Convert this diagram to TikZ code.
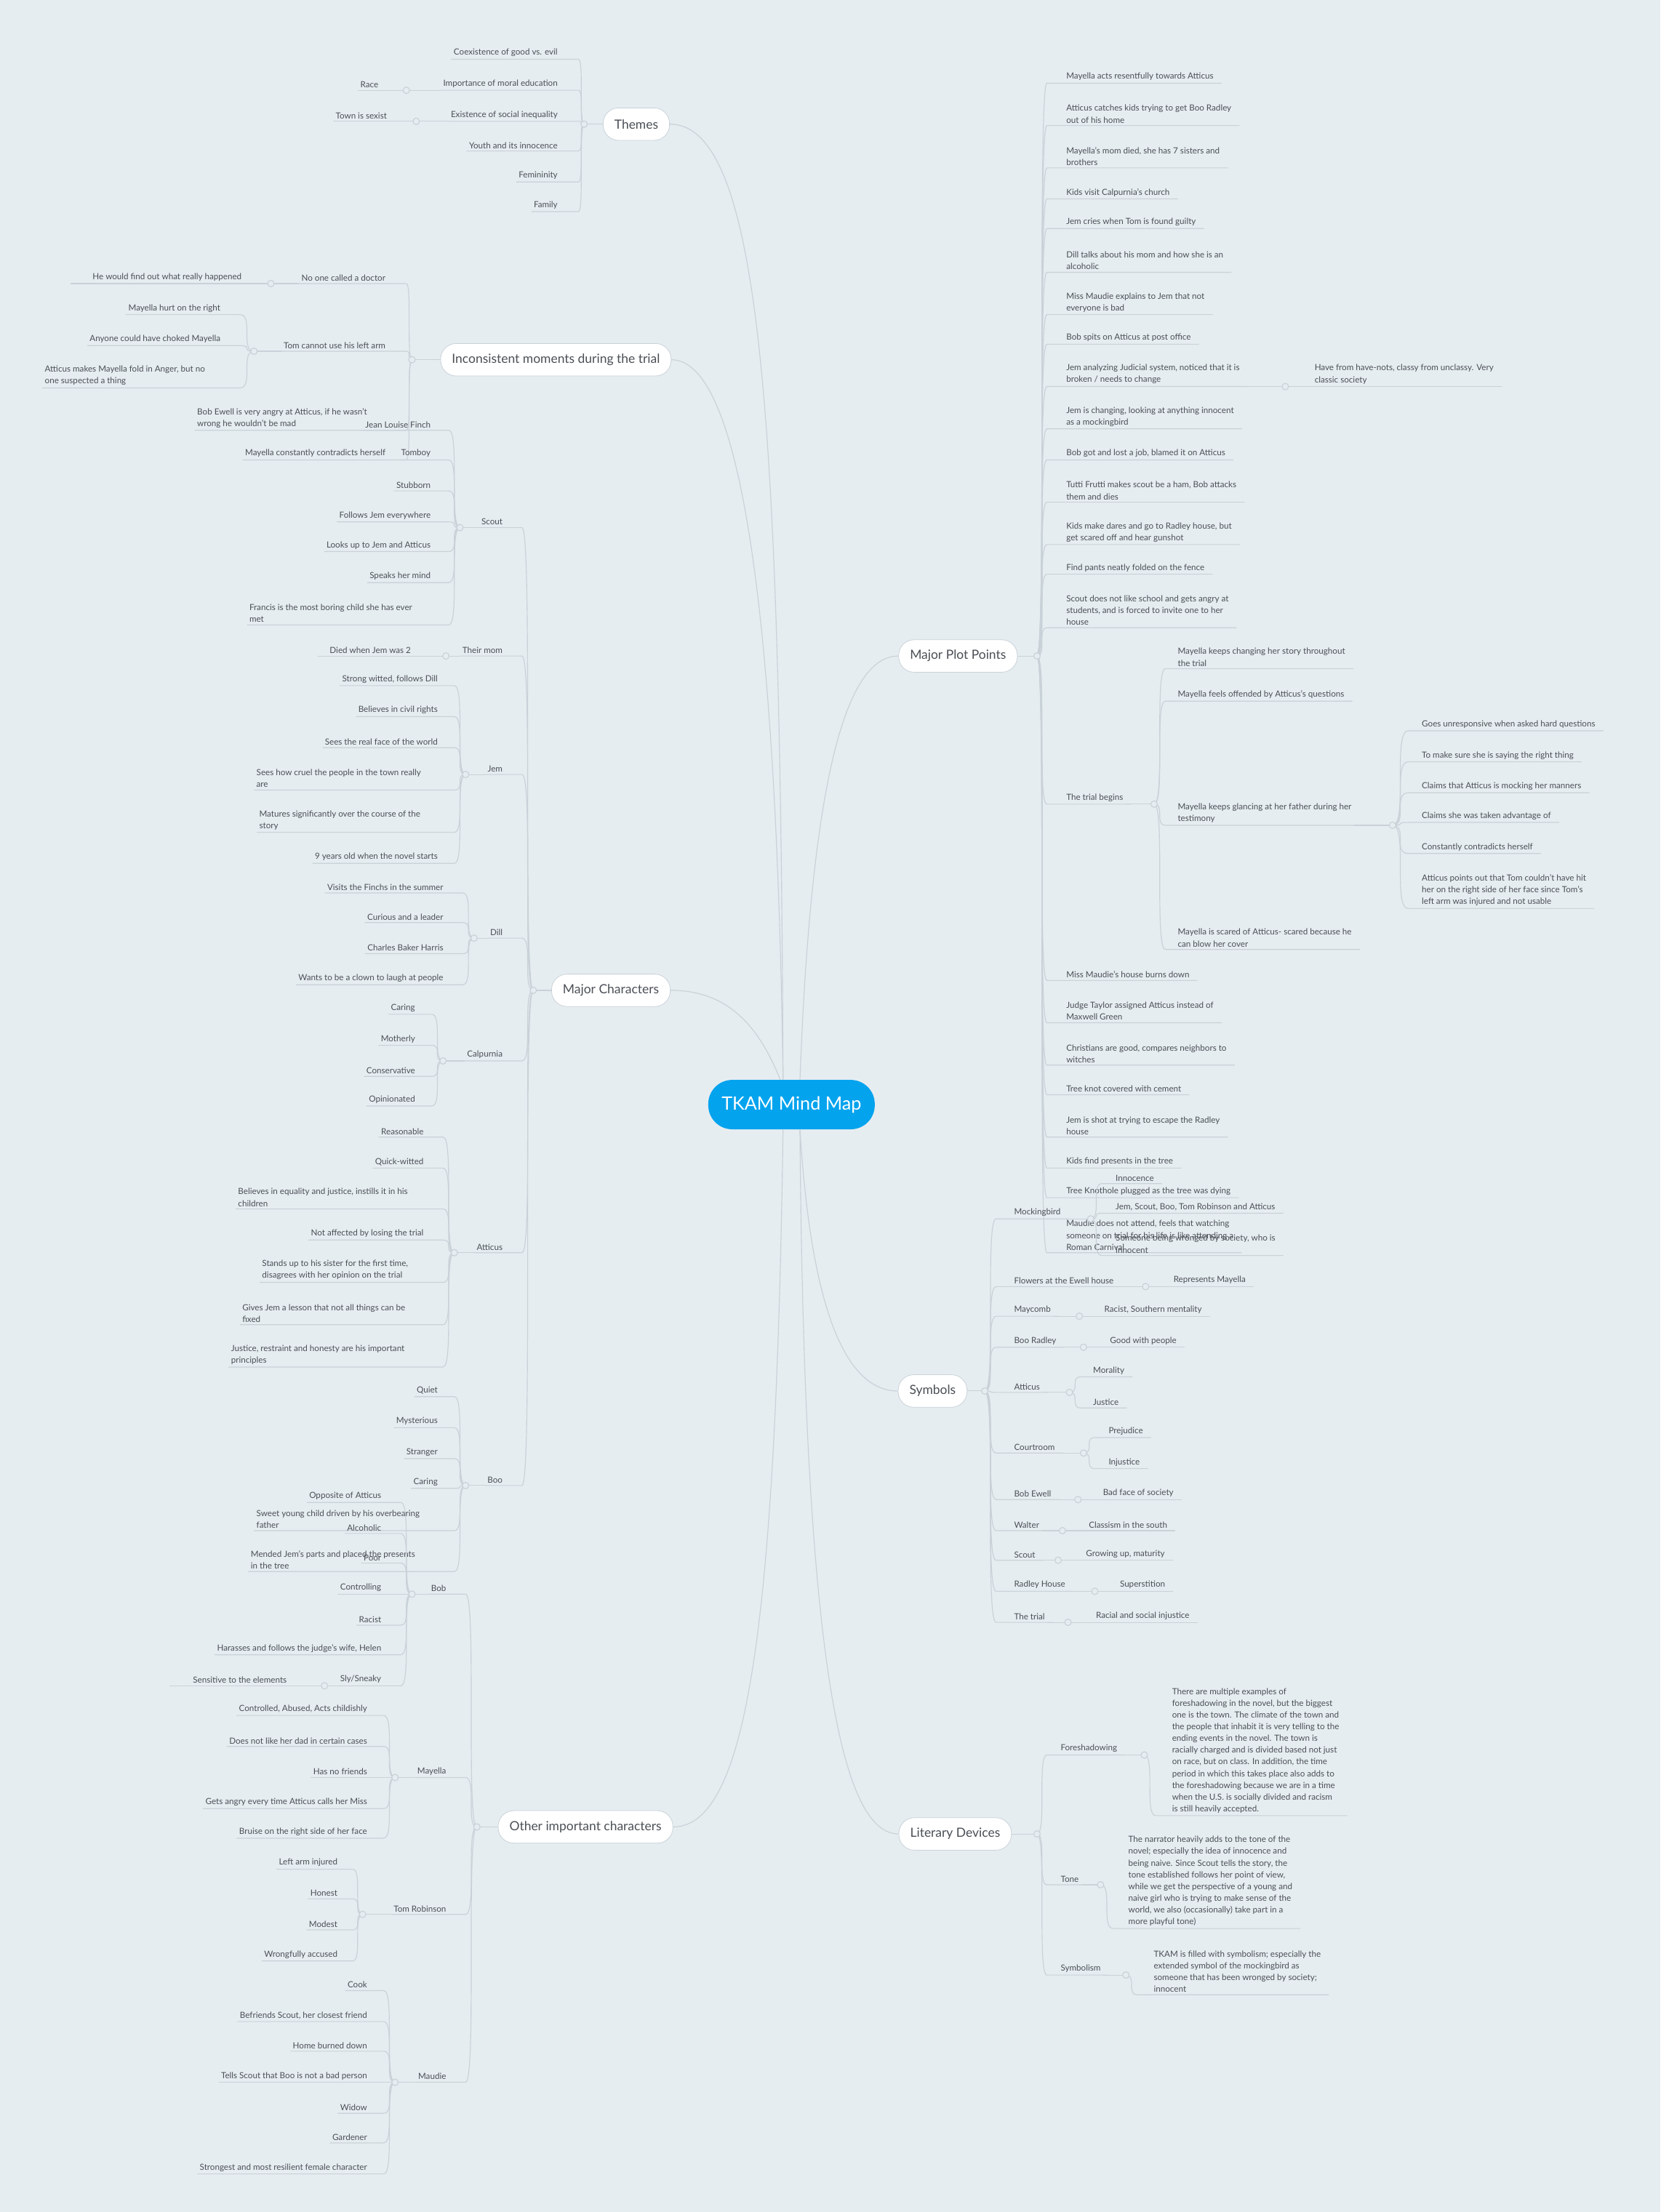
\documentclass[tikz,border=0pt]{standalone}
\usepackage{fontspec}
\setmainfont{Lato}
\definecolor{bg}{HTML}{E6EDF1}
\definecolor{lc}{HTML}{C9D2D8}
\definecolor{txt}{HTML}{4A4F55}
\definecolor{cblue}{HTML}{03A3EE}
\tikzset{
 lt/.style={font=\fontsize{6}{8.3}\selectfont, text=txt, inner sep=1.6pt, align=left},
 ln/.style={draw=lc, line width=0.6pt},
 jc/.style={draw=lc, fill=bg, line width=0.6pt},
 mainbox/.style={draw=lc, fill=white, rounded corners=11pt, minimum height=23pt, inner xsep=8pt, font=\fontsize{9}{11}\selectfont, text=txt},
}
\newcounter{nn}
% left leaf: anchor, x, uy, text, xstart(optional), xe, jx, jy
\newcommand\LL[8]{\stepcounter{nn}%
 \node[lt,anchor=#1] (n\thenn) at (#2,#3) {#4};
 \draw[ln] (n\thenn.south west) -- (#6,#3) .. controls (#7,#3) and (#6,#8) .. (#7,#8);
 \if\relax\detokenize{#5}\relax\else\draw[ln] (#5,#3) -- (n\thenn.south west);\fi}
% right leaf: x, uy, text, xend(optional), xe, jx, jy
\newcommand\RL[7]{\stepcounter{nn}%
 \node[lt,anchor=south west] (n\thenn) at (#1,#2) {#3};
 \draw[ln] (n\thenn.south east) ++(4,0) -- (#5,#2) .. controls (#6,#2) and (#5,#7) .. (#6,#7);
 \if\relax\detokenize{#4}\relax\else\draw[ln] (n\thenn.south east) -- (#4,#2);\fi}
\newcommand\J[2]{\draw[jc] (#1,#2) circle (2.3);}
\begin{document}
\begin{tikzpicture}[x=1pt,y=-1pt]
\fill[bg] (0,0) rectangle (1177,1568);
\useasboundingbox (0,0) rectangle (1177,1568);

% main nodes
\node[draw=none, fill=cblue, rounded corners=17pt, minimum width=118pt, minimum height=35pt, text=white, font=\fontsize{13}{15}\selectfont] (C) at (561,783) {TKAM Mind Map};
\node[mainbox] (themes) at (451,88) {Themes};
\node[mainbox] (incons) at (394,255) {Inconsistent moments during the trial};
\node[mainbox] (majc) at (433,702) {Major Characters};
\node[mainbox] (other) at (415,1295) {Other important characters};
\node[mainbox] (plot) at (679,465) {Major Plot Points};
\node[mainbox] (symb) at (661,986) {Symbols};
\node[mainbox] (lit) at (677,1300) {Literary Devices};

\draw[ln] ([xshift=-6pt]C.north) .. controls (553,300) and (540,88) .. (themes.east);
\draw[ln] ([xshift=-6pt]C.north) .. controls (550,400) and (520,255) .. (incons.east);
\draw[ln] ([xshift=-8pt]C.north) .. controls (535,720) and (510,702) .. (majc.east);
\draw[ln] ([xshift=-6pt]C.south) .. controls (550,1150) and (530,1295) .. (other.east);
\draw[ln] ([xshift=6pt]C.north) .. controls (575,550) and (600,465) .. (plot.west);
\draw[ln] ([xshift=6pt]C.south) .. controls (575,930) and (600,986) .. (symb.west);
\draw[ln] ([xshift=6pt]C.south) .. controls (570,1200) and (600,1300) .. (lit.west);

\draw[ln] (414,88) -- (themes.west);
\draw[ln] (292,255) -- (incons.west);
\draw[ln] (378,702) -- (majc.west);
\draw[ln] (338,1295) -- (other.west);
\draw[ln] (plot.east) -- (735,465);
\draw[ln] (symb.east) -- (698,986);
\draw[ln] (lit.east) -- (735,1300);

% Themes
\LL{south east}{397}{42}{Coexistence of good vs. evil}{}{410}{414}{88}
\LL{south east}{397}{64}{Importance of moral education}{288}{410}{414}{88}
\LL{south east}{270}{64}{Race}{}{287.5}{288}{64}
\LL{south east}{397}{86}{Existence of social inequality}{295}{410}{414}{88}
\LL{south east}{276}{86}{Town is sexist}{}{294.5}{295}{86}
\LL{south east}{397}{107}{Youth and its innocence}{}{410}{414}{88}
\LL{south east}{397}{129}{Femininity}{}{410}{414}{88}
\LL{south east}{397}{150}{Family}{}{410}{414}{88}

% Inconsistent
\LL{south east}{275}{201}{No one called a doctor}{192}{288}{292}{255}
\LL{south east}{173}{201}{He would find out what really happened}{50}{191.5}{192}{201}
\LL{south east}{275}{249}{Tom cannot use his left arm}{180}{288}{292}{255}
\LL{south east}{158}{223}{Mayella hurt on the right}{}{170}{180}{249}
\LL{south east}{158}{245}{Anyone could have choked Mayella}{}{170}{180}{249}
\LL{south west}{30}{275}{Atticus makes Mayella fold in Anger, but no\\one suspected a thing}{}{170}{180}{249}
\LL{south west}{138}{305}{Bob Ewell is very angry at Atticus, if he wasn't\\wrong he wouldn't be mad}{}{288}{292}{255}
\LL{south east}{275}{326}{Mayella constantly contradicts herself}{}{288}{292}{255}

% Major characters labels
\LL{south east}{358}{374}{Scout}{326}{370}{378}{702}
\LL{south east}{358}{465}{Their mom}{316}{370}{378}{702}
\LL{south east}{358}{549}{Jem}{330}{370}{378}{702}
\LL{south east}{358}{665}{Dill}{336}{370}{378}{702}
\LL{south east}{358}{752}{Calpurnia}{314}{370}{378}{702}
\LL{south east}{358}{888}{Atticus}{322}{370}{378}{702}
\LL{south east}{358}{1053}{Boo}{330}{370}{378}{702}
% Scout
\LL{south east}{307}{305}{Jean Louise Finch}{}{318}{326}{374}
\LL{south east}{307}{326}{Tomboy}{}{318}{326}{374}
\LL{south east}{307}{348}{Stubborn}{}{318}{326}{374}
\LL{south east}{307}{370}{Follows Jem everywhere}{}{318}{326}{374}
\LL{south east}{307}{391}{Looks up to Jem and Atticus}{}{318}{326}{374}
\LL{south east}{307}{413}{Speaks her mind}{}{318}{326}{374}
\LL{south west}{175}{443}{Francis is the most boring child she has ever\\met}{}{318}{326}{374}
% mom
\LL{south east}{293}{465}{Died when Jem was 2}{225}{315.5}{316}{465}
% Jem
\LL{south east}{312}{486}{Strong witted, follows Dill}{}{322}{330}{549}
\LL{south east}{312}{508}{Believes in civil rights}{}{322}{330}{549}
\LL{south east}{312}{530}{Sees the real face of the world}{}{322}{330}{549}
\LL{south west}{180}{560}{Sees how cruel the people in the town really\\are}{}{322}{330}{549}
\LL{south west}{182}{590}{Matures significantly over the course of the\\story}{}{322}{330}{549}
\LL{south east}{312}{612}{9 years old when the novel starts}{}{322}{330}{549}
% Dill
\LL{south east}{316}{633}{Visits the Finchs in the summer}{}{328}{336}{665}
\LL{south east}{316}{654}{Curious and a leader}{}{328}{336}{665}
\LL{south east}{316}{676}{Charles Baker Harris}{}{328}{336}{665}
\LL{south east}{316}{698}{Wants to be a clown to laugh at people}{}{328}{336}{665}
% Calpurnia
\LL{south east}{296}{719}{Caring}{}{306}{314}{752}
\LL{south east}{296}{741}{Motherly}{}{306}{314}{752}
\LL{south east}{296}{763}{Conservative}{}{306}{314}{752}
\LL{south east}{296}{784}{Opinionated}{}{306}{314}{752}
% Atticus
\LL{south east}{302}{806}{Reasonable}{}{314}{322}{888}
\LL{south east}{302}{828}{Quick-witted}{}{314}{322}{888}
\LL{south west}{167}{857}{Believes in equality and justice, instills it in his\\children}{}{314}{322}{888}
\LL{south east}{302}{879}{Not affected by losing the trial}{}{314}{322}{888}
\LL{south west}{184}{909}{Stands up to his sister for the first time,\\disagrees with her opinion on the trial}{}{314}{322}{888}
\LL{south west}{170}{939}{Gives Jem a lesson that not all things can be\\fixed}{}{314}{322}{888}
\LL{south west}{162}{969}{Justice, restraint and honesty are his important\\principles}{}{314}{322}{888}
% Boo
\LL{south east}{312}{990}{Quiet}{}{322}{330}{1053}
\LL{south east}{312}{1012}{Mysterious}{}{322}{330}{1053}
\LL{south east}{312}{1034}{Stranger}{}{322}{330}{1053}
\LL{south east}{312}{1055}{Caring}{}{322}{330}{1053}
\LL{south west}{180}{1085}{Sweet young child driven by his overbearing\\father}{}{322}{330}{1053}
\LL{south west}{176}{1114}{Mended Jem's parts and placed the presents\\in the tree}{}{322}{330}{1053}

% Other important characters labels
\LL{south east}{318}{1130}{Bob}{292}{330}{338}{1295}
\LL{south east}{318}{1260}{Mayella}{280}{330}{338}{1295}
\LL{south east}{318}{1357}{Tom Robinson}{257}{330}{338}{1295}
\LL{south east}{318}{1476}{Maudie}{280}{330}{338}{1295}
% Bob
\LL{south east}{272}{1065}{Opposite of Atticus}{}{284}{292}{1130}
\LL{south east}{272}{1087}{Alcoholic}{}{284}{292}{1130}
\LL{south east}{272}{1108}{Poor}{}{284}{292}{1130}
\LL{south east}{272}{1130}{Controlling}{}{284}{292}{1130}
\LL{south east}{272}{1152}{Racist}{}{284}{292}{1130}
\LL{south east}{272}{1173}{Harasses and follows the judge's wife, Helen}{}{284}{292}{1130}
\LL{south east}{272}{1195}{Sly/Sneaky}{230}{284}{292}{1130}
\LL{south east}{205}{1195}{Sensitive to the elements}{120}{229.5}{230}{1195}
% Mayella
\LL{south east}{262}{1216}{Controlled, Abused, Acts childishly}{}{272}{280}{1260}
\LL{south east}{262}{1238}{Does not like her dad in certain cases}{}{272}{280}{1260}
\LL{south east}{262}{1260}{Has no friends}{}{272}{280}{1260}
\LL{south east}{262}{1282}{Gets angry every time Atticus calls her Miss}{}{272}{280}{1260}
\LL{south east}{262}{1303}{Bruise on the right side of her face}{}{272}{280}{1260}
% Tom
\LL{south east}{241}{1325}{Left arm injured}{}{250}{257}{1357}
\LL{south east}{241}{1346}{Honest}{}{250}{257}{1357}
\LL{south east}{241}{1368}{Modest}{}{250}{257}{1357}
\LL{south east}{241}{1390}{Wrongfully accused}{}{250}{257}{1357}
% Maudie
\LL{south east}{262}{1411}{Cook}{}{272}{280}{1476}
\LL{south east}{262}{1433}{Befriends Scout, her closest friend}{}{272}{280}{1476}
\LL{south east}{262}{1454}{Home burned down}{}{272}{280}{1476}
\LL{south east}{262}{1476}{Tells Scout that Boo is not a bad person}{}{272}{280}{1476}
\LL{south east}{262}{1498}{Widow}{}{272}{280}{1476}
\LL{south east}{262}{1519}{Gardener}{}{272}{280}{1476}
\LL{south east}{262}{1541}{Strongest and most resilient female character}{}{272}{280}{1476}

% Major Plot Points
\RL{754}{59}{Mayella acts resentfully towards Atticus}{}{742}{735}{465}
\RL{754}{89}{Atticus catches kids trying to get Boo Radley\\out of his home}{}{742}{735}{465}
\RL{754}{119}{Mayella's mom died, she has 7 sisters and\\brothers}{}{742}{735}{465}
\RL{754}{141}{Kids visit Calpurnia's church}{}{742}{735}{465}
\RL{754}{162}{Jem cries when Tom is found guilty}{}{742}{735}{465}
\RL{754}{193}{Dill talks about his mom and how she is an\\alcoholic}{}{742}{735}{465}
\RL{754}{223}{Miss Maudie explains to Jem that not\\everyone is bad}{}{742}{735}{465}
\RL{754}{244}{Bob spits on Atticus at post office}{}{742}{735}{465}
\RL{754}{274}{Jem analyzing Judicial system, noticed that it is\\broken / needs to change}{911}{742}{735}{465}
\RL{930}{274}{Have from have-nots, classy from unclassy. Very\\classic society}{}{911.5}{911}{274}
\RL{754}{304}{Jem is changing, looking at anything innocent\\as a mockingbird}{}{742}{735}{465}
\RL{754}{326}{Bob got and lost a job, blamed it on Atticus}{}{742}{735}{465}
\RL{754}{356}{Tutti Frutti makes scout be a ham, Bob attacks\\them and dies}{}{742}{735}{465}
\RL{754}{386}{Kids make dares and go to Radley house, but\\get scared off and hear gunshot}{}{742}{735}{465}
\RL{754}{407}{Find pants neatly folded on the fence}{}{742}{735}{465}
\RL{754}{445}{Scout does not like school and gets angry at\\students, and is forced to invite one to her\\house}{}{742}{735}{465}
\RL{754}{570}{The trial begins}{818}{742}{735}{465}
\RL{833}{474}{Mayella keeps changing her story throughout\\the trial}{}{826}{818}{570}
\RL{833}{497}{Mayella feels offended by Atticus's questions}{}{826}{818}{570}
\RL{833}{585}{Mayella keeps glancing at her father during her\\testimony}{987}{826}{818}{570}
\RL{833}{673}{Mayella is scared of Atticus- scared because he\\can blow her cover}{}{826}{818}{570}
\RL{1006}{518}{Goes unresponsive when asked hard questions}{}{998}{987}{585}
\RL{1006}{540}{To make sure she is saying the right thing}{}{998}{987}{585}
\RL{1006}{562}{Claims that Atticus is mocking her manners}{}{998}{987}{585}
\RL{1006}{583}{Claims she was taken advantage of}{}{998}{987}{585}
\RL{1006}{605}{Constantly contradicts herself}{}{998}{987}{585}
\RL{1006}{644}{Atticus points out that Tom couldn't have hit\\her on the right side of her face since Tom's\\left arm was injured and not usable}{}{998}{987}{585}
\RL{754}{695}{Miss Maudie's house burns down}{}{742}{735}{465}
\RL{754}{725}{Judge Taylor assigned Atticus instead of\\Maxwell Green}{}{742}{735}{465}
\RL{754}{755}{Christians are good, compares neighbors to\\witches}{}{742}{735}{465}
\RL{754}{776}{Tree knot covered with cement}{}{742}{735}{465}
\RL{754}{806}{Jem is shot at trying to escape the Radley\\house}{}{742}{735}{465}
\RL{754}{828}{Kids find presents in the tree}{}{742}{735}{465}
\RL{754}{849}{Tree Knothole plugged as the tree was dying}{}{742}{735}{465}
\RL{754}{888}{Maudie does not attend, feels that watching\\someone on trial for his life is like attending a\\Roman Carnival}{}{742}{735}{465}

% Symbols
\RL{717}{864}{Mockingbird}{773}{706}{698}{986}
\RL{789}{839}{Innocence}{}{781}{773}{864}
\RL{789}{860}{Jem, Scout, Boo, Tom Robinson and Atticus}{}{781}{773}{864}
\RL{789}{890}{Someone being wronged by society, who is\\innocent}{}{781}{773}{864}
\RL{717}{912}{Flowers at the Ewell house}{812}{706}{698}{986}
\RL{830}{912}{Represents Mayella}{}{812.5}{812}{912}
\RL{717}{933}{Maycomb}{765}{706}{698}{986}
\RL{781}{933}{Racist, Southern mentality}{}{765.5}{765}{933}
\RL{717}{955}{Boo Radley}{768}{706}{698}{986}
\RL{785}{955}{Good with people}{}{768.5}{768}{955}
\RL{717}{987}{Atticus}{758}{706}{698}{986}
\RL{773}{976}{Morality}{}{766}{758}{987}
\RL{773}{998}{Justice}{}{766}{758}{987}
\RL{717}{1030}{Courtroom}{768}{706}{698}{986}
\RL{784}{1019}{Prejudice}{}{776}{768}{1030}
\RL{784}{1041}{Injustice}{}{776}{768}{1030}
\RL{717}{1063}{Bob Ewell}{764}{706}{698}{986}
\RL{780}{1063}{Bad face of society}{}{764.5}{764}{1063}
\RL{717}{1085}{Walter}{753}{706}{698}{986}
\RL{770}{1085}{Classism in the south}{}{753.5}{753}{1085}
\RL{717}{1106}{Scout}{750}{706}{698}{986}
\RL{768}{1106}{Growing up, maturity}{}{750.5}{750}{1106}
\RL{717}{1128}{Radley House}{776}{706}{698}{986}
\RL{792}{1128}{Superstition}{}{776.5}{776}{1128}
\RL{717}{1150}{The trial}{757}{706}{698}{986}
\RL{775}{1150}{Racial and social injustice}{}{757.5}{757}{1150}

% Literary devices
\RL{750}{1244}{Foreshadowing}{811}{742}{735}{1300}
\RL{829}{1287}{There are multiple examples of\\foreshadowing in the novel, but the biggest\\one is the town. The climate of the town and\\the people that inhabit it is very telling to the\\ending events in the novel. The town is\\racially charged and is divided based not just\\on race, but on class. In addition, the time\\period in which this takes place also adds to\\the foreshadowing because we are in a time\\when the U.S. is socially divided and racism\\is still heavily accepted.}{}{819}{811}{1244}
\RL{750}{1336}{Tone}{780}{742}{735}{1300}
\RL{798}{1367}{The narrator heavily adds to the tone of the\\novel; especially the idea of innocence and\\being naive. Since Scout tells the story, the\\tone established follows her point of view,\\while we get the perspective of a young and\\naive girl who is trying to make sense of the\\world, we also (occasionally) take part in a\\more playful tone)}{}{789}{780}{1336}
\RL{750}{1400}{Symbolism}{798}{742}{735}{1300}
\RL{816}{1414}{TKAM is filled with symbolism; especially the\\extended symbol of the mockingbird as\\someone that has been wronged by society;\\innocent}{}{806}{798}{1400}

% junction circles
\J{414}{88}\J{288}{64}\J{295}{86}
\J{292}{255}\J{192}{201}\J{180}{249}
\J{378}{702}\J{326}{374}\J{316}{465}\J{330}{549}\J{336}{665}\J{314}{752}\J{322}{888}\J{330}{1053}
\J{338}{1295}\J{292}{1130}\J{230}{1195}\J{280}{1260}\J{257}{1357}\J{280}{1476}
\J{735}{465}\J{911}{274}\J{818}{570}\J{987}{585}
\J{698}{986}\J{773}{864}\J{812}{912}\J{765}{933}\J{768}{955}\J{758}{987}\J{768}{1030}\J{764}{1063}\J{753}{1085}\J{750}{1106}\J{776}{1128}\J{757}{1150}
\J{735}{1300}\J{811}{1244}\J{780}{1336}\J{798}{1400}
\end{tikzpicture}
\end{document}
